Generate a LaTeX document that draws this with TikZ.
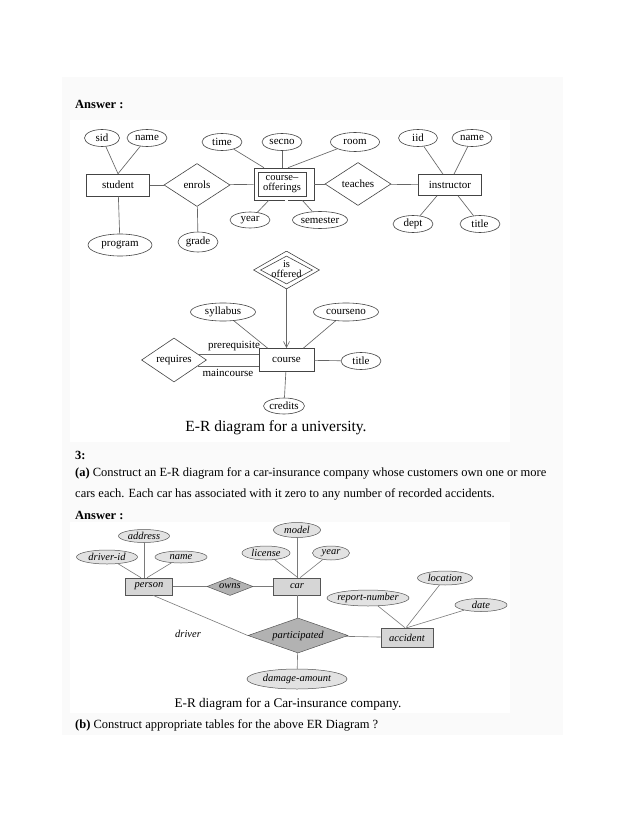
\documentclass[tikz,border=0pt]{standalone}
\usepackage{fontspec}
\setmainfont{Liberation Serif}
\usetikzlibrary{shapes.geometric,arrows.meta,calc}
\definecolor{panel}{HTML}{FAFAFA}
\definecolor{lnA}{HTML}{666666}
\definecolor{bdA}{HTML}{444444}
\definecolor{lnB}{HTML}{7A7A7A}
\definecolor{bdB}{HTML}{555555}
\definecolor{entB}{HTML}{D6D6D6}
\definecolor{attB}{HTML}{E2E2E2}
\definecolor{relB}{HTML}{B2B2B2}
\newcommand\fA{\fontsize{11}{11}\selectfont}
\newcommand\fAs{\fontsize{10.5}{9.5}\selectfont}
\newcommand\fB{\fontsize{10.5}{11}\selectfont\itshape}
\newcommand\fT{\fontsize{12.5}{15}\selectfont}
\begin{document}
\begin{tikzpicture}[x=1pt,y=-1pt,
  entA/.style={draw=bdA, line width=0.6pt, rectangle, inner sep=0pt, font=\fA},
  attA/.style={draw=bdA, line width=0.6pt, ellipse, inner sep=0pt, label={[font=\fA,inner sep=0pt]center:#1}},
  relA/.style={draw=bdA, line width=0.6pt, diamond, inner sep=0pt, label={[font=\fA,inner sep=0pt]center:#1}},
  lnA/.style={draw=lnA, line width=0.65pt},
  entB/.style={draw=bdB, fill=entB, line width=0.6pt, rectangle, inner sep=0pt, font=\fB},
  attB/.style={draw=bdB, fill=attB, line width=0.5pt, ellipse, inner sep=0pt, label={[font=\fB,inner sep=0pt]center:#1}},
  relB/.style={draw=bdB, fill=relB, line width=0.5pt, diamond, inner sep=0pt, label={[font=\fB,inner sep=0pt]center:#1}},
  lnB/.style={draw=lnB, line width=0.6pt},
  body/.style={font=\fT, anchor=base west, inner sep=0pt},
  captext/.style={anchor=base, inner sep=0pt}
]
\useasboundingbox (0,0) rectangle (638,826);
\fill[white] (0,0) rectangle (638,826);
\fill[panel] (62,77) rectangle (563,735);
\fill[white] (70,120) rectangle (510,442);
\fill[white] (70,522) rectangle (510,713);

% ---------- texts ----------
\node[body] (ans1) at (75,109) {\bfseries Answer :};
\node[body] (q3) at (75,459) {\bfseries 3:};
\node[body] (qa1) at (75,476) {\textbf{(a)} Construct an E-R diagram for a car-insurance company whose customers own one or more};
\node[body] (qa2) at (75,497) {cars each. Each car has associated with it zero to any number of recorded accidents.};
\node[body] (ans2) at (75,519) {\bfseries Answer :};
\node[body] (qb) at (75,728) {\textbf{(b)} Construct appropriate tables for the above ER Diagram ?};

% ---------- university diagram ----------
\node[attA=sid, minimum width=35, minimum height=17] (sid) at (102,138) {};
\node[attA=name, minimum width=40, minimum height=17] (sname) at (147,138) {};
\node[entA, minimum width=63, minimum height=22] (student) at (118,185) {student};
\node[attA=program, minimum width=64, minimum height=22] (program) at (120,245) {};
\node[relA=enrols, minimum width=66, minimum height=43] (enrols) at (197,185) {};
\node[attA=grade, minimum width=40, minimum height=20] (grade) at (198,242) {};
\node[attA=time, minimum width=40, minimum height=17] (time) at (222,142) {};
\node[attA=secno, minimum width=40, minimum height=17] (secno) at (282,142) {};
\node[attA=room, minimum width=49, minimum height=19] (room) at (355,142) {};
\node[draw=bdA, line width=0.6pt, minimum width=60, minimum height=32, inner sep=0pt] (coout) at (284,184) {};
\node[draw=bdA, line width=0.6pt, minimum width=48, minimum height=24, inner sep=0pt] (coin) at (282,184) {};
\node[font=\fAs, align=center, inner sep=0pt] (cotext) at (282,184) {course--\\offerings};
\node[attA=year, minimum width=40, minimum height=16] (year) at (250,220) {};
\node[attA=semester, minimum width=55, minimum height=17] (sem) at (320,220) {};
\node[relA=teaches, minimum width=66, minimum height=43] (teaches) at (358,184) {};
\node[entA, minimum width=63, minimum height=21] (instr) at (450,185) {instructor};
\node[attA=iid, minimum width=39, minimum height=17] (iid) at (418,138) {};
\node[attA=name, minimum width=40, minimum height=17] (iname) at (472,138) {};
\node[attA=dept, minimum width=40, minimum height=17] (dept) at (413,224) {};
\node[attA=title, minimum width=40, minimum height=17] (ititle) at (480,224) {};
\node[draw=bdA, line width=0.6pt, diamond, inner sep=0pt, minimum width=66, minimum height=38] (isoff) at (286.5,270) {};
\node[draw=bdA, line width=0.6pt, diamond, inner sep=0pt, minimum width=52, minimum height=28] (isoffin) at (286.5,270) {};
\node[font=\fAs, align=center, inner sep=0pt] (isofftext) at (286.5,269) {is\\offered};
\node[entA, minimum width=55, minimum height=23] (course) at (286.5,360) {course};
\node[attA=syllabus, minimum width=65, minimum height=18] (syl) at (223,312) {};
\node[attA=courseno, minimum width=65, minimum height=18] (cno) at (346,312) {};
\node[relA=requires, minimum width=65, minimum height=44] (req) at (174,360) {};
\node[attA=title, minimum width=40, minimum height=17] (ctitle) at (361,361) {};
\node[attA=credits, minimum width=41, minimum height=16] (credits) at (284,406) {};
\node[font=\fA, inner sep=0pt] (lpre) at (234,346) {prerequisite};
\node[font=\fA, inner sep=0pt] (lmain) at (228,373) {maincourse};
\node[captext, font=\fontsize{15.5}{16}\selectfont] (cap1) at (276,431) {E-R diagram for a university.};

\draw[lnA] (sid) -- (student.north);
\draw[lnA] (sname) -- (student.north);
\draw[lnA] (student) -- (program);
\draw[lnA] (student) -- (enrols);
\draw[lnA] (enrols) -- (coout);
\draw[lnA] (enrols) -- (grade);
\draw[lnA] (time) -- ($(coout.north west)!0.17!(coout.north east)$);
\draw[lnA] (secno) -- (secno |- coout.north);
\draw[lnA] (room) -- ($(coout.north)+(4,0)$);
\draw[lnA] (year) -- ($(coout.south west)!0.25!(coout.south east)$);
\draw[lnA] (sem) -- ($(coout.south east)+(-12,0)$);
\draw[lnA] (coout) -- (teaches);
\draw[lnA] (teaches) -- (instr);
\draw[lnA] (iid) -- ($(instr.north)+(-7,0)$);
\draw[lnA] (iname) -- ($(instr.north)+(4,0)$);
\draw[lnA] (dept) -- ($(instr.south)+(-13,0)$);
\draw[lnA] (ititle) -- ($(instr.south)+(8,0)$);
\draw[draw=lnA, line width=0.6pt, double=white, double distance=2.4pt] (coout.south -| isoff) -- (isoff.north);
\draw[lnA, -{Straight Barb[length=6pt,width=6pt]}] (isoff.south) -- (course.north);
\draw[lnA] (syl) -- ($(course.north west)+(9,0)$);
\draw[lnA] (cno) -- ($(course.north east)+(-11,0)$);
\draw[lnA] (course) -- (ctitle);
\draw[lnA] (course) -- (credits);
\draw[lnA] (req.14) -- (req.14 -| course.west);
\draw[lnA] (req.-14) -- (req.-14 -| course.west);

% ---------- car insurance diagram ----------
\node[attB=address, minimum width=51, minimum height=13] (addr) at (144,536) {};
\node[attB=driver-id, minimum width=61, minimum height=14] (drid) at (107,557) {};
\node[attB=name, minimum width=52, minimum height=12] (pname) at (181,557) {};
\node[entB, minimum width=47, minimum height=17] (person) at (149,586.5) {person};
\node[relB=owns, minimum width=46, minimum height=18] (owns) at (230,586.5) {};
\node[entB, minimum width=47, minimum height=17] (car) at (297,586.5) {car};
\node[attB=model, minimum width=47, minimum height=15] (model) at (297,530) {};
\node[attB=license, minimum width=48, minimum height=14] (lic) at (266,553) {};
\node[attB=year, minimum width=37, minimum height=14] (cyear) at (331,553) {};
\node[attB=location, minimum width=55, minimum height=14] (loc) at (445,578) {};
\node[attB=report-number, minimum width=82, minimum height=16] (rep) at (368,598) {};
\node[attB=date, minimum width=52, minimum height=13] (date) at (481,605) {};
\node[entB, minimum width=52, minimum height=19] (acc) at (407,637.5) {accident};
\node[relB=participated, minimum width=100, minimum height=35] (part) at (298,635.5) {};
\node[attB=damage-amount, minimum width=100, minimum height=20] (dmg) at (297,679) {};
\node[font=\fB, inner sep=0pt] (ldriver) at (188,634) {driver};
\node[captext, font=\fontsize{13.2}{14}\selectfont] (cap2) at (288,707) {E-R diagram for a Car-insurance company.};

\draw[lnB] (addr) -- (addr |- person.north);
\draw[lnB] (drid) -- ($(person.north)+(-8,0)$);
\draw[lnB] (pname) -- ($(person.north)+(-2,0)$);
\draw[lnB] (person) -- (owns);
\draw[lnB] (owns) -- (car);
\draw[lnB] (lic) -- ($(car.north)+(1,0)$);
\draw[lnB] (model) -- (car);
\draw[lnB] (cyear) -- ($(car.north)+(3,0)$);
\draw[lnB] (car) -- (car |- part.north);
\draw[lnB] ($(person.south)+(4,0)$) -- (part.west);
\draw[lnB] (part) -- (acc);
\draw[lnB] (part) -- (dmg);
\draw[lnB] (rep) -- ($(acc.north)+(-2,0)$);
\draw[lnB] (loc) -- ($(acc.north)+(-1,0)$);
\draw[lnB] (date) -- ($(acc.north)+(0,0)$);
\end{tikzpicture}
\end{document}
